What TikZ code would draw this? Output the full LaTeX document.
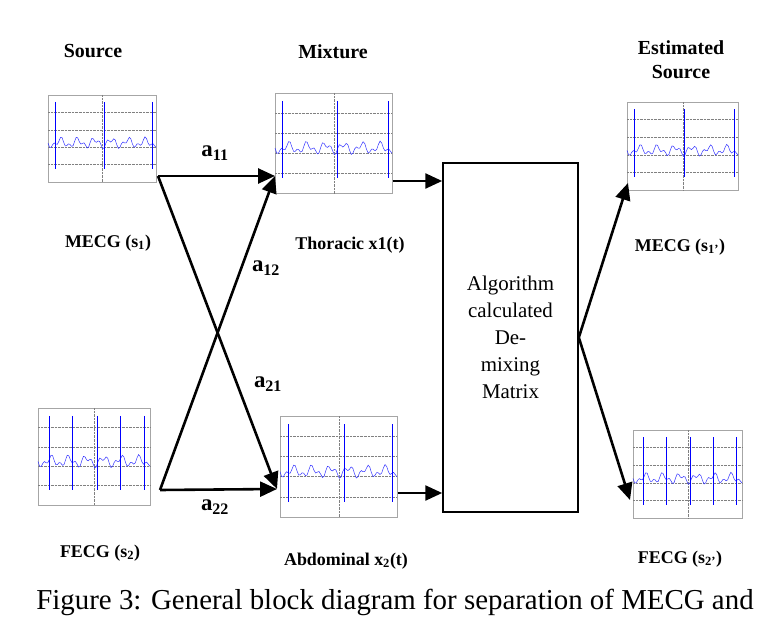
\documentclass[tikz,border=0pt]{standalone}
\usepackage{fontspec}
\setmainfont{Liberation Serif}
\usetikzlibrary{positioning,arrows.meta,calc}

\tikzset{
  panel/.style={draw=gray!70, line width=0.6pt, inner sep=0pt, anchor=north west},
  conn/.style={-{Triangle[length=17pt,width=15pt]}, line width=2.6pt},
  lbl/.style={font=\bfseries\fontsize{18}{20}\selectfont},
  ttl/.style={font=\bfseries\fontsize{20}{24}\selectfont, align=center},
  coef/.style={font=\bfseries\fontsize{23}{25}\selectfont},
}

% ECG panel: name, x, y, w, h, spike list (fractions)
\newcommand{\ecgpanel}[6]{%
  \node[panel, minimum width=#4bp, minimum height=#5bp] (#1) at (#2,#3) {};
  \foreach \g in {0.2,0.4,0.6,0.8}
    \draw[gray, densely dotted, line width=0.4pt] ($(#1.north west)+(0,\g*#5)$) -- ++(#4,0);
  \draw[gray, densely dotted, line width=0.4pt] (#1.north) -- (#1.south);
  \draw[blue!80, line width=0.5pt] plot[domain=0:1, samples=70]
    ({#2+\x*#4}, {#3+#5*(0.55+0.04*sin(\x*2300)+0.03*sin(\x*5100))});
  \foreach \s in {#6}
    \draw[blue, line width=0.9pt] ({#2+\s*#4},{#3+0.08*#5}) -- ({#2+\s*#4},{#3+0.85*#5});
}

\begin{document}
\begin{tikzpicture}[x=1bp, y=-1bp]
    \useasboundingbox (0,0) rectangle (772,620);

    % titles
    \node[ttl] (tsrc) at (93,51) {Source};
    \node[ttl] (tmix) at (333,52) {Mixture};
    \node[ttl] (test) at (681,60) {Estimated\\Source};

    % signal panels
    \ecgpanel{s1}{48}{95}{108}{87}{0.07,0.52,0.97}
    \ecgpanel{x1}{275}{93}{117}{100}{0.06,0.53,0.97}
    \ecgpanel{s2}{38}{408}{112}{97}{0.1,0.31,0.53,0.74,0.95}
    \ecgpanel{x2}{280}{416}{117}{101}{0.07,0.55,0.96}
    \ecgpanel{y1}{627}{102}{111}{88}{0.07,0.52,0.97}
    \ecgpanel{y2}{633}{430}{109}{88}{0.1,0.31,0.53,0.74,0.95}

    % signal names
    \node[lbl] (ns1) at (108,243) {MECG (s\textsubscript{1})};
    \node[lbl] (nx1) at (350,245) {Thoracic x1(t)};
    \node[lbl] (ns2) at (100,553) {FECG (s\textsubscript{2})};
    \node[lbl] (nx2) at (346,561) {Abdominal x\textsubscript{2}(t)};
    \node[lbl] (ny1) at (680,247) {MECG (s\textsubscript{1'})};
    \node[lbl] (ny2) at (680,559) {FECG (s\textsubscript{2'})};

    % de-mixing block
    \node[draw, line width=1.6pt, minimum width=135bp, minimum height=349bp, align=center,
          font=\fontsize{21}{27}\selectfont] (alg) at (510.5,337.5)
          {Algorithm\\calculated\\De-\\mixing\\Matrix};

    % mixing connectors
    \coordinate (s1out) at (158,176);
    \coordinate (s2out) at (160,490);
    \coordinate (x1in) at (275,176);
    \coordinate (x2in) at (277,489);
    \draw[conn] (s1out) -- (x1in);
    \draw[conn] (s1out) -- (x2in);
    \draw[conn] (s2out) -- (x1in);
    \draw[conn] (s2out) -- (x2in);
    \draw[conn] (x1.east |- 0,181) -- (alg.west |- 0,181);
    \draw[conn] (x2.east |- 0,493) -- (alg.west |- 0,493);
    \draw[conn] (alg.east) -- (628,183);
    \draw[conn] (alg.east) -- (630,500);

    % coefficients
    \node[coef] (a11) at (215,153) {a\textsubscript{11}};
    \node[coef] (a12) at (266,268) {a\textsubscript{12}};
    \node[coef] (a21) at (268,384) {a\textsubscript{21}};
    \node[coef] (a22) at (215,507) {a\textsubscript{22}};

    % caption
    \node[font=\fontsize{29}{32}\selectfont] (cap) at (395,602) {Figure 3: General block diagram for separation of MECG and};
\end{tikzpicture}
\end{document}
